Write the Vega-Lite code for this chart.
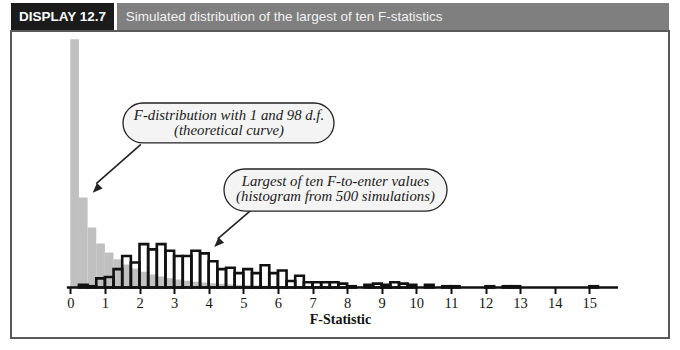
{
  "$schema": "https://vega.github.io/schema/vega-lite/v6.json",
  "padding": {"left": 10, "top": 3, "right": 0, "bottom": 0},
  "background": "white",
  "config": {"view": {"stroke": null}},
  "datasets": {
    "theory": [
      {"lo": 0, "hi": 0.25, "expected": 189},
      {"lo": 0.25, "hi": 0.5, "expected": 68.5},
      {"lo": 0.5, "hi": 0.75, "expected": 45.7},
      {"lo": 0.75, "hi": 1, "expected": 33.5},
      {"lo": 1, "hi": 1.25, "expected": 26.6},
      {"lo": 1.25, "hi": 1.5, "expected": 21.5},
      {"lo": 1.5, "hi": 1.75, "expected": 17.5},
      {"lo": 1.75, "hi": 2, "expected": 14.4},
      {"lo": 2, "hi": 2.25, "expected": 12},
      {"lo": 2.25, "hi": 2.5, "expected": 10},
      {"lo": 2.5, "hi": 2.75, "expected": 8.4},
      {"lo": 2.75, "hi": 3, "expected": 7.1},
      {"lo": 3, "hi": 3.25, "expected": 6.1},
      {"lo": 3.25, "hi": 3.5, "expected": 5.2},
      {"lo": 3.5, "hi": 3.75, "expected": 4.4},
      {"lo": 3.75, "hi": 4, "expected": 3.8},
      {"lo": 4, "hi": 4.25, "expected": 3.3},
      {"lo": 4.25, "hi": 4.5, "expected": 2.8},
      {"lo": 4.5, "hi": 4.75, "expected": 2.4},
      {"lo": 4.75, "hi": 5, "expected": 2.1},
      {"lo": 5, "hi": 5.25, "expected": 1.8},
      {"lo": 5.25, "hi": 5.5, "expected": 1.6},
      {"lo": 5.5, "hi": 5.75, "expected": 1.4},
      {"lo": 5.75, "hi": 6, "expected": 1.2},
      {"lo": 6, "hi": 6.25, "expected": 1.05},
      {"lo": 6.25, "hi": 6.5, "expected": 0.9},
      {"lo": 6.5, "hi": 6.75, "expected": 0.8},
      {"lo": 6.75, "hi": 7, "expected": 0.7},
      {"lo": 7, "hi": 7.25, "expected": 0.6},
      {"lo": 7.25, "hi": 7.5, "expected": 0.55},
      {"lo": 7.5, "hi": 7.75, "expected": 0.5},
      {"lo": 7.75, "hi": 8, "expected": 0.45}
    ],
    "hist": [
      {"lo": 0.25, "hi": 0.5, "count": 2},
      {"lo": 0.5, "hi": 0.75, "count": 1},
      {"lo": 0.75, "hi": 1, "count": 7},
      {"lo": 1, "hi": 1.25, "count": 8},
      {"lo": 1.25, "hi": 1.5, "count": 14},
      {"lo": 1.5, "hi": 1.75, "count": 24},
      {"lo": 1.75, "hi": 2, "count": 19},
      {"lo": 2, "hi": 2.25, "count": 33},
      {"lo": 2.25, "hi": 2.5, "count": 29},
      {"lo": 2.5, "hi": 2.75, "count": 33},
      {"lo": 2.75, "hi": 3, "count": 28},
      {"lo": 3, "hi": 3.25, "count": 24},
      {"lo": 3.25, "hi": 3.5, "count": 24},
      {"lo": 3.5, "hi": 3.75, "count": 28},
      {"lo": 3.75, "hi": 4, "count": 26},
      {"lo": 4, "hi": 4.25, "count": 20},
      {"lo": 4.25, "hi": 4.5, "count": 14},
      {"lo": 4.5, "hi": 4.75, "count": 15},
      {"lo": 4.75, "hi": 5, "count": 11},
      {"lo": 5, "hi": 5.25, "count": 14},
      {"lo": 5.25, "hi": 5.5, "count": 11},
      {"lo": 5.5, "hi": 5.75, "count": 17},
      {"lo": 5.75, "hi": 6, "count": 11},
      {"lo": 6, "hi": 6.25, "count": 13},
      {"lo": 6.25, "hi": 6.5, "count": 5},
      {"lo": 6.5, "hi": 6.75, "count": 9},
      {"lo": 6.75, "hi": 7, "count": 4},
      {"lo": 7, "hi": 7.25, "count": 4},
      {"lo": 7.25, "hi": 7.5, "count": 4},
      {"lo": 7.5, "hi": 7.75, "count": 4},
      {"lo": 7.75, "hi": 8, "count": 3},
      {"lo": 8, "hi": 8.25, "count": 1},
      {"lo": 8.5, "hi": 8.75, "count": 2},
      {"lo": 8.75, "hi": 9, "count": 3},
      {"lo": 9, "hi": 9.25, "count": 2},
      {"lo": 9.25, "hi": 9.5, "count": 4},
      {"lo": 9.5, "hi": 9.75, "count": 3},
      {"lo": 9.75, "hi": 10, "count": 2},
      {"lo": 10.25, "hi": 10.5, "count": 2},
      {"lo": 10.75, "hi": 11, "count": 1},
      {"lo": 11, "hi": 11.25, "count": 1},
      {"lo": 12, "hi": 12.25, "count": 1},
      {"lo": 12.5, "hi": 12.75, "count": 1},
      {"lo": 12.75, "hi": 13, "count": 1},
      {"lo": 15, "hi": 15.25, "count": 1}
    ],
    "one": [{"k": 1}]
  },
  "spacing": 0,
  "vconcat": [
    {
      "spacing": 3,
      "hconcat": [
        {
          "width": 103,
          "height": 27,
          "view": {"fill": "#1b1b1b", "stroke": null},
          "data": {"values": [{"label": "DISPLAY 12.7"}]},
          "mark": {"type": "text", "color": "white", "font": "Liberation Sans", "fontWeight": "bold", "fontSize": 13.5, "align": "center", "baseline": "middle"},
          "encoding": {"text": {"field": "label"}}
        },
        {
          "width": 552,
          "height": 27,
          "view": {"fill": "#7f7f7f", "stroke": null},
          "data": {"values": [{"label": "Simulated distribution of the largest of ten F-statistics"}]},
          "mark": {"type": "text", "color": "#f2f2f2", "font": "Liberation Sans", "fontSize": 13.5, "align": "left", "baseline": "middle"},
          "encoding": {
            "text": {"field": "label"},
            "x": {"datum": 0.016, "type": "quantitative", "scale": {"domain": [0, 1], "nice": false, "zero": false}, "axis": null}
          }
        }
      ]
    },
    {
      "width": 658,
      "height": 307,
      "view": {"stroke": "#5a5a5a", "strokeWidth": 2},
      "encoding": {
        "x": {"type": "quantitative", "scale": {"domain": [-1.714, 17.303], "nice": false, "zero": false}},
        "y": {"type": "quantitative", "scale": {"domain": [-38.4, 195.2], "nice": false, "zero": false}}
      },
      "layer": [
        {
          "data": {"name": "theory"},
          "mark": {"type": "bar", "color": "#c0c0c0"},
          "encoding": {
            "x": {"field": "lo", "type": "quantitative", "title": "F-Statistic",
              "axis": {"values": [0,1,2,3,4,5,6,7,8,9,10,11,12,13,14,15], "domain": false, "grid": false, "offset": -50.5,
                "tickSize": 6, "tickWidth": 2, "tickColor": "#111", "labelPadding": 3,
                "labelFont": "Liberation Serif", "labelFontSize": 14.5, "labelColor": "#151515",
                "titleFont": "Liberation Serif", "titleFontSize": 14, "titleFontWeight": "bold", "titleColor": "#111", "titlePadding": 2}},
            "x2": {"field": "hi"},
            "y": {"field": "expected", "type": "quantitative", "axis": null},
            "y2": {"datum": 0}
          }
        },
        {
          "data": {"name": "hist"},
          "mark": {"type": "bar", "fill": "white", "fillOpacity": 0, "stroke": "#111", "strokeWidth": 2.6},
          "encoding": {
            "x": {"field": "lo", "type": "quantitative"},
            "x2": {"field": "hi"},
            "y": {"field": "count", "type": "quantitative"},
            "y2": {"datum": 0}
          }
        },
        {
          "data": {"name": "one"},
          "mark": {"type": "rule", "color": "#111", "strokeWidth": 2.5},
          "encoding": {
            "x": {"datum": -0.1, "type": "quantitative"},
            "x2": {"datum": 15.83},
            "y": {"datum": 0, "type": "quantitative"}
          }
        },
        {
          "data": {"name": "one"},
          "mark": {"type": "rule", "color": "#222", "strokeWidth": 1.6},
          "encoding": {
            "x": {"datum": 2.04, "type": "quantitative"},
            "y": {"datum": 109, "type": "quantitative"},
            "x2": {"datum": 0.75},
            "y2": {"datum": 79}
          }
        },
        {
          "data": {"name": "one"},
          "mark": {"type": "point", "shape": "M0,0L0.8,2L-0.8,2Z", "filled": true, "opacity": 1, "color": "#222", "size": 100, "angle": 225},
          "encoding": {
            "x": {"datum": 0.647, "type": "quantitative"},
            "y": {"datum": 72.1, "type": "quantitative"}
          }
        },
        {
          "data": {"name": "one"},
          "mark": {"type": "rule", "color": "#222", "strokeWidth": 1.6},
          "encoding": {
            "x": {"datum": 5.251, "type": "quantitative"},
            "y": {"datum": 59.5, "type": "quantitative"},
            "x2": {"datum": 4.26},
            "y2": {"datum": 37}
          }
        },
        {
          "data": {"name": "one"},
          "mark": {"type": "point", "shape": "M0,0L0.8,2L-0.8,2Z", "filled": true, "opacity": 1, "color": "#222", "size": 100, "angle": 225},
          "encoding": {
            "x": {"datum": 4.159, "type": "quantitative"},
            "y": {"datum": 30.8, "type": "quantitative"}
          }
        },
        {
          "data": {"name": "one"},
          "mark": {"type": "rect", "cornerRadius": 20, "fill": "#f4f4f4", "stroke": "#222", "strokeWidth": 1.3},
          "encoding": {
            "x": {"datum": 1.523, "type": "quantitative"},
            "x2": {"datum": 7.621},
            "y": {"datum": 140.4, "type": "quantitative"},
            "y2": {"datum": 110.0}
          }
        },
        {
          "data": {"name": "one"},
          "mark": {"type": "text", "text": ["F-distribution with 1 and 98 d.f.", "(theoretical curve)"], "font": "Liberation Serif", "fontStyle": "italic", "fontSize": 14.8, "lineHeight": 15, "align": "center", "baseline": "alphabetic", "color": "#1a1a1a"},
          "encoding": {
            "x": {"datum": 4.587, "type": "quantitative"},
            "y": {"datum": 127.4, "type": "quantitative"}
          }
        },
        {
          "data": {"name": "one"},
          "mark": {"type": "rect", "cornerRadius": 21, "fill": "#f4f4f4", "stroke": "#222", "strokeWidth": 1.3},
          "encoding": {
            "x": {"datum": 4.442, "type": "quantitative"},
            "x2": {"datum": 10.887},
            "y": {"datum": 90.2, "type": "quantitative"},
            "y2": {"datum": 58.2}
          }
        },
        {
          "data": {"name": "one"},
          "mark": {"type": "text", "text": ["Largest of ten F-to-enter values", "(histogram from 500 simulations)"], "font": "Liberation Serif", "fontStyle": "italic", "fontSize": 14.8, "lineHeight": 15, "align": "center", "baseline": "alphabetic", "color": "#1a1a1a"},
          "encoding": {
            "x": {"datum": 7.665, "type": "quantitative"},
            "y": {"datum": 77.3, "type": "quantitative"}
          }
        }
      ]
    }
  ]
}
